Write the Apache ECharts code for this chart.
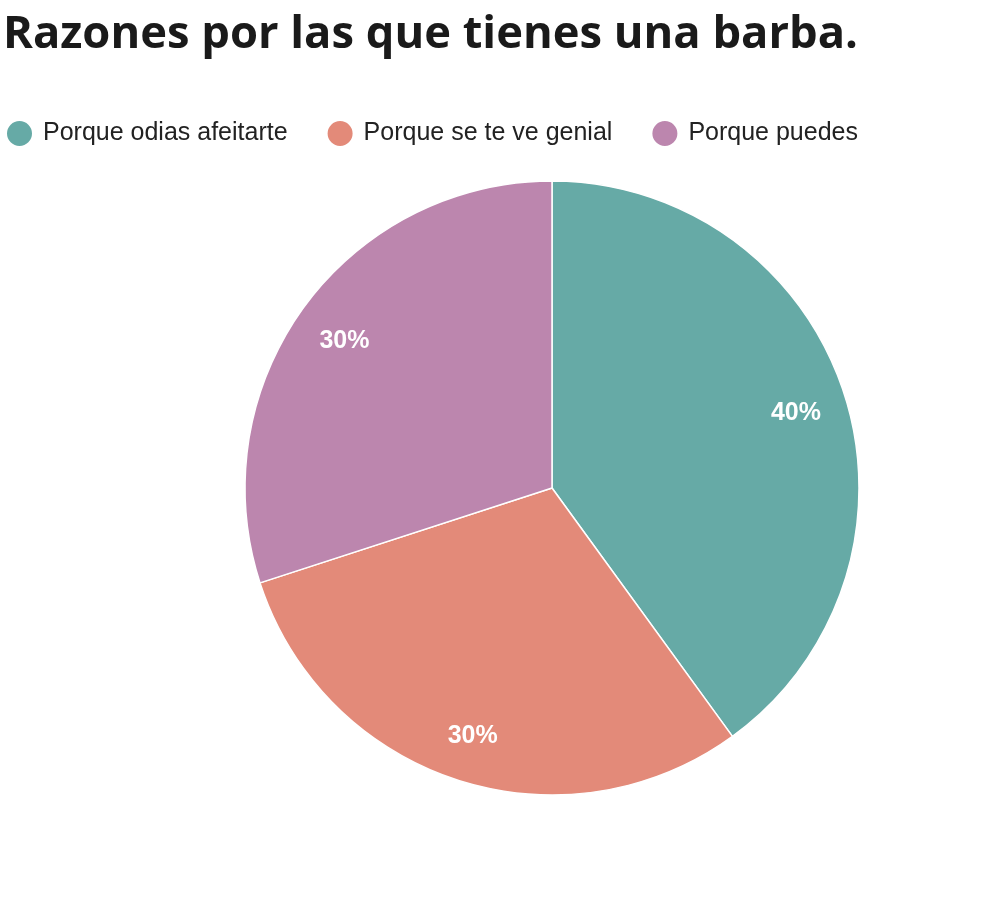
<!DOCTYPE html>
<html>
<head>
<meta charset="utf-8">
<script src="https://cdn.jsdelivr.net/npm/echarts@6/dist/echarts.min.js"></script>
<style>
  html, body { margin: 0; padding: 0; background: #fff; }
  #chart { width: 990px; height: 914px; }
</style>
</head>
<body>
<div id="chart"></div>
<script>
// data
const titleText = 'Razones por las que tienes una barba.';
const categories = ['Porque odias afeitarte', 'Porque se te ve genial', 'Porque puedes'];
const values = [40, 30, 30];
const colors = ['#66aaa6', '#e38a79', '#bc86ae'];

const pieData = categories.map((name, i) => ({
    name: name,
    value: values[i],
    itemStyle: { color: colors[i] }
}));

const chart = echarts.init(document.getElementById('chart'), null, { renderer: 'canvas' });

chart.setOption({
    animation: false,
    title: {
        text: titleText,
        left: -2,
        top: 8,
        textStyle: {
            fontFamily: 'Open Sans',
            fontWeight: 'bold',
            fontSize: 45.3,
            color: '#1a1a1a'
        }
    },
    legend: {
        left: 5,
        top: 119,
        padding: 0,
        icon: 'circle',
        itemWidth: 27,
        itemHeight: 27,
        itemGap: 38,
        textStyle: {
            fontFamily: 'Liberation Sans',
            fontSize: 25,
            color: '#222',
            padding: [0, 0, 0, 5]
        },
        data: categories
    },
    series: [
        {
            type: 'pie',
            center: [552, 488],
            radius: [0, 307],
            startAngle: 90,
            clockwise: true,
            label: { show: false },
            labelLine: { show: false },
            itemStyle: { borderColor: '#fff', borderWidth: 1.5 },
            emphasis: { disabled: true },
            data: pieData
        },
        {
            // transparent ring just to place the percent labels
            type: 'pie',
            center: [552, 488],
            radius: [200, 307],
            startAngle: 90,
            clockwise: true,
            silent: true,
            legendHoverLink: false,
            itemStyle: { color: 'transparent' },
            label: {
                show: true,
                position: 'inside',
                formatter: '{d}%',
                offset: [0, 4],
                color: '#fff',
                fontFamily: 'Liberation Sans',
                fontWeight: 'bold',
                fontSize: 25
            },
            labelLine: { show: false },
            emphasis: { disabled: true },
            data: categories.map((name, i) => ({ name: name + ' ', value: values[i] }))
        }
    ]
});
</script>
</body>
</html>
